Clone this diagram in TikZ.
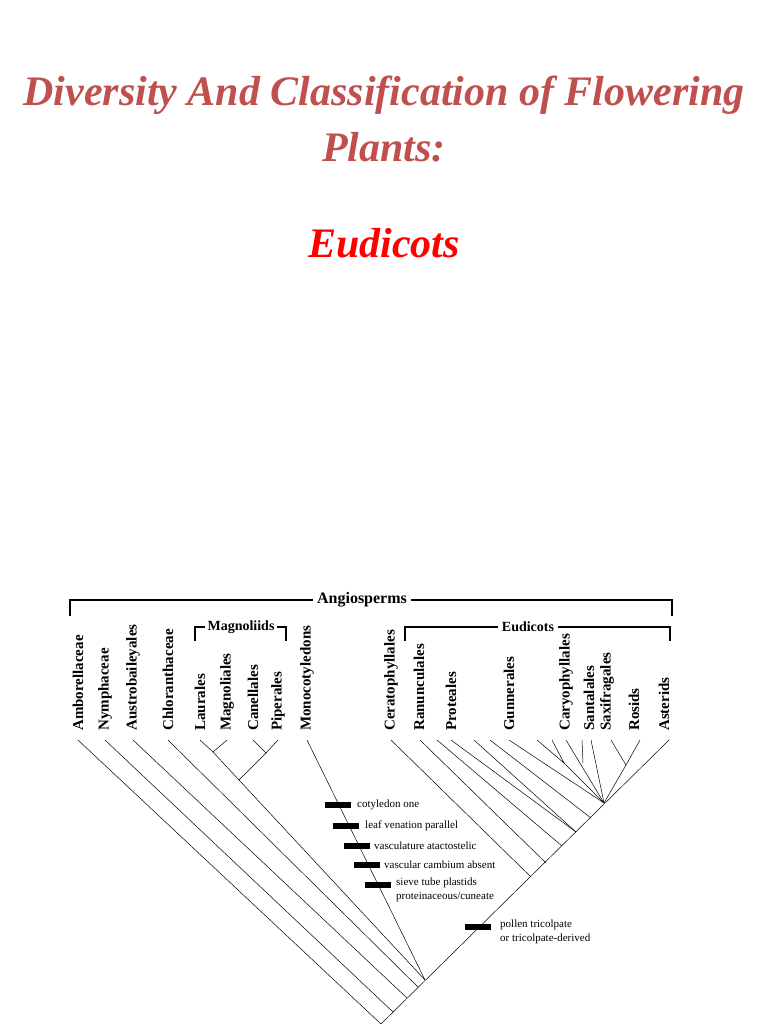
\documentclass[tikz,border=0pt]{standalone}
\usepackage{fontspec}
\setmainfont{Liberation Serif}
\definecolor{ttl}{RGB}{192,80,77}
\begin{document}
\begin{tikzpicture}[x=1pt,y=-1pt,
  lab/.style={rotate=90,anchor=west,inner sep=0pt,font=\fontsize{15}{17}\selectfont\bfseries},
  br/.style={line width=1.6pt},
  ln/.style={line width=0.5pt},
  bar/.style={fill=black,minimum width=26pt,minimum height=6pt,inner sep=0pt},
  trait/.style={anchor=west,inner sep=0pt,align=left,font=\fontsize{11}{14}\selectfont},
  ttlf/.style={font=\fontsize{42}{46}\selectfont\bfseries\itshape}]
\useasboundingbox (0,0) rectangle (768,1024);
\clip (0,0) rectangle (768,1024);
% titles
\node[ttlf,text=ttl] (t1) at (384,95) {Diversity And Classification of Flowering};
\node[ttlf,text=ttl] (t2) at (384,147) {Plants:};
\node[ttlf,text=red] (t3) at (384,243) {Eudicots};
% brackets
\node[font=\fontsize{16}{18}\selectfont\bfseries,inner sep=4pt] (ang) at (362,600) {Angiosperms};
\draw[br] (70,616) -- (70,600) -- (ang.west) (ang.east) -- (672,600) -- (672,616);
\node[font=\fontsize{14}{16}\selectfont\bfseries,inner sep=2pt] (mag) at (241,627) {Magnoliids};
\draw[br] (195,641) -- (195,627) -- (mag.west) (mag.east) -- (286,627) -- (286,641);
\node[font=\fontsize{14}{16}\selectfont\bfseries,inner sep=4pt] (eud) at (528,627) {Eudicots};
\draw[br] (405,641) -- (405,627) -- (eud.west) (eud.east) -- (670,627) -- (670,641);
% labels
\foreach \n/\x in {Amborellaceae/78,Nymphaceae/105,Austrobaileyales/133,Chloranthaceae/168,Laurales/200,Magnoliales/227,Canellales/253,Piperales/278,Monocotyledons/307,Ceratophyllales/391,Ranunculales/419,Proteales/451,Gunnerales/509,Caryophyllales/566,Santalales/589,Saxifragales/607,Rosids/634,Asterids/664}
  \node[lab] (L\n) at (\x,731) {\n};
% coordinates
\coordinate (R) at (381,1024);
\coordinate (n1) at (393,1012);
\coordinate (n2) at (407,998);
\coordinate (n3) at (418,987);
\coordinate (n4) at (425,980);
\coordinate (e1) at (531,877);
\coordinate (e2) at (546,863);
\coordinate (e3) at (562,846);
\coordinate (e4) at (576,832);
\coordinate (e5) at (591,818);
\coordinate (hub) at (604,803);
\coordinate (lm) at (213,752);
\coordinate (cp) at (266,753);
\coordinate (mg) at (239,780);
\coordinate (c1) at (564,763);
\coordinate (c2) at (583,763);
\coordinate (sr) at (626,765);
% tips
\foreach \n/\x in {a/78,b/105,c/133,d/168,e/200,f/227,g/253,h/278,i/307,j/391,k/420,l/437,m/451,o/474,p/490,q/509,r/537,s/552,t/566,u/582,v/591,w/611,x/640,y/669}
  \coordinate (T\n) at (\x,740);
\draw[ln] (Ta) -- (R) -- (Ty);
\draw[ln] (Tb) -- (n1);
\draw[ln] (Tc) -- (n2);
\draw[ln] (Td) -- (n3);
\draw[ln] (Te) -- (lm) -- (Tf);
\draw[ln] (Tg) -- (cp) -- (Th);
\draw[ln] (lm) -- (mg) -- (cp);
\draw[ln] (mg) -- (n4);
\draw[ln] (Ti) -- (n4);
\draw[ln] (Tj) -- (e1);
\draw[ln] (Tk) -- (e2);
\draw[ln] (Tl) -- (e3);
\draw[ln] (Tm) -- (e4);
\draw[ln] (To) -- (e4);
\draw[ln] (Tp) -- (e5);
\draw[ln] (Tq) -- (hub);
\draw[ln] (Tr) -- (c1) -- (Ts);
\draw[ln] (c1) -- (hub);
\draw[ln] (Tt) -- (hub);
\draw[ln] (Tu) -- (c2);
\draw[ln] (Tv) -- (hub);
\draw[ln] (Tw) -- (sr) -- (Tx);
\draw[ln] (sr) -- (hub);
% traits
\node[bar] (b1) at (338,805) {};
\node[trait] (x1) at (357,805) {cotyledon one};
\node[bar] (b2) at (346,826) {};
\node[trait] (x2) at (365,826) {leaf venation parallel};
\node[bar] (b3) at (357,846) {};
\node[trait] (x3) at (374,846) {vasculature atactostelic};
\node[bar] (b4) at (367,865) {};
\node[trait] (x4) at (384,865) {vascular cambium absent};
\node[bar] (b5) at (378,885) {};
\node[trait,anchor=north west] (x5) at (396,878) {sieve tube plastids\\proteinaceous/cuneate};
\node[bar] (b6) at (478,927) {};
\node[trait,anchor=north west] (x6) at (500,920) {pollen tricolpate\\or tricolpate-derived};
\end{tikzpicture}
\end{document}
